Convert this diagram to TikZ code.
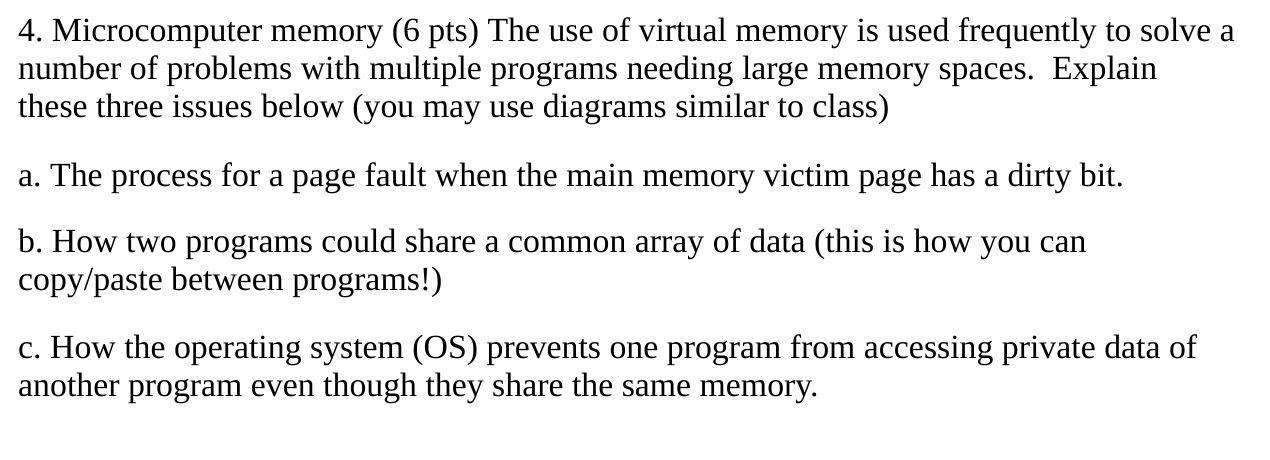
\documentclass[tikz,border=0pt]{standalone}
\usepackage{fontspec}
\setmainfont{Liberation Serif}
\begin{document}
\frenchspacing
\begin{tikzpicture}[x=1pt,y=1pt,t/.style={anchor=base west,inner sep=0pt,font=\fontsize{33.8}{38}\selectfont}]
\useasboundingbox[fill=white] (0,0) rectangle (1270,-459);
\node[t] (l1) at (18,-41) {4. Microcomputer memory (6 pts) The use of virtual memory is used frequently to solve a};
\node[t] (l2) at (18,-79) {number of problems with multiple programs needing large memory spaces.\ \ Explain};
\node[t] (l3) at (18,-117) {these three issues below (you may use diagrams similar to class)};
\node[t] (a) at (18,-186) {a. The process for a page fault when the main memory victim page has a dirty bit.};
\node[t] (b1) at (18,-252) {b. How two programs could share a common array of data (this is how you can};
\node[t] (b2) at (18,-290) {copy/paste between programs!)};
\node[t] (c1) at (18,-358) {c. How the operating system (OS) prevents one program from accessing private data of};
\node[t] (c2) at (18,-396) {another program even though they share the same memory.};
\end{tikzpicture}
\end{document}
